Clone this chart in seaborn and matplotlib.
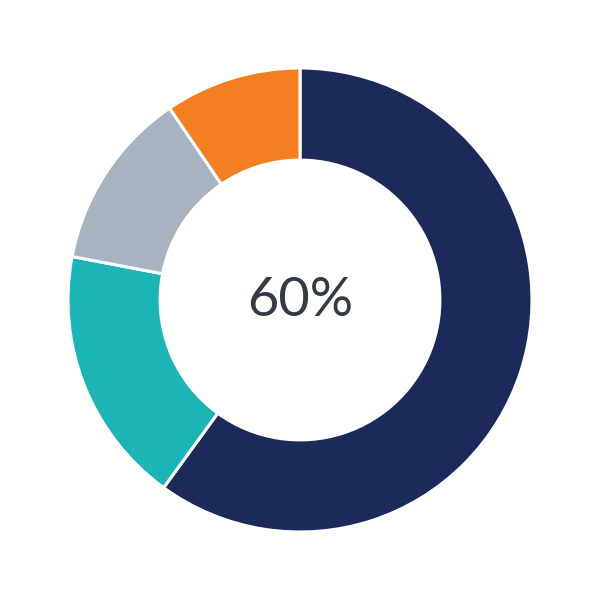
import matplotlib
matplotlib.use("Agg")
import matplotlib.pyplot as plt
import seaborn as sns

categories = ["Navy", "Teal", "Gray", "Orange"]
values = [60, 18, 12.5, 9.5]
colors = ["#1B2A5B", "#1BB5B8", "#A8B3C1", "#F47F20"]
center_label = "60%"

sns.set_theme(style="white")
plt.rcParams['font.family'] = ['Lato', 'DejaVu Sans']

fig = plt.figure(figsize=(6, 6), dpi=100)
ax = fig.add_axes([0, 0, 1, 1])
palette = sns.color_palette(colors)
ax.pie(values, colors=palette, startangle=90, counterclock=False,
       radius=1.0, wedgeprops=dict(width=0.397, edgecolor="white", linewidth=2.2))
lim = 300 / 232
ax.set_xlim(-lim, lim)
ax.set_ylim(-lim, lim)
ax.set_aspect("equal")
ax.axis("off")
ax.text(0, 0, center_label, ha="center", va="center", fontsize=39,
        fontweight="normal", color="#333B46")
fig.savefig("out.png", dpi=100, facecolor="white")
